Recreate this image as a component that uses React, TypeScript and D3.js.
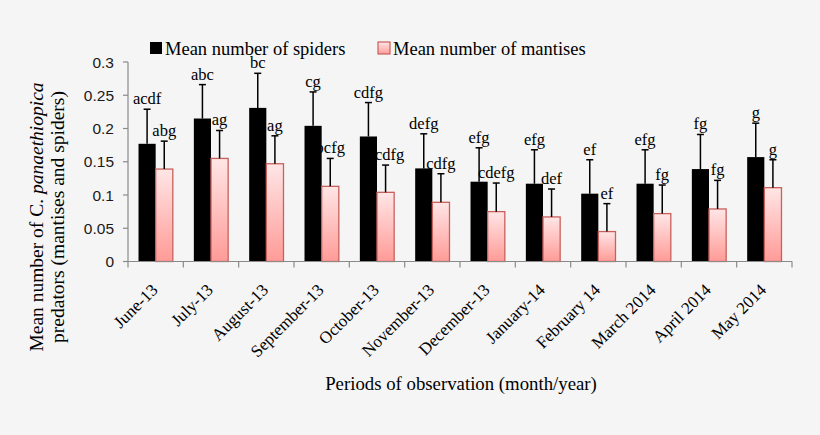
import React, { useRef, useEffect } from 'react'
import * as d3 from 'd3'

const months = [
  'June-13', 'July-13', 'August-13', 'September-13', 'October-13', 'November-13',
  'December-13', 'January-14', 'February 14', 'March 2014', 'April 2014', 'May 2014',
]

const spiders = [0.177, 0.215, 0.231, 0.204, 0.188, 0.14, 0.12, 0.117, 0.102, 0.117, 0.139, 0.157]
const spiderErr = [0.052, 0.051, 0.052, 0.051, 0.051, 0.052, 0.051, 0.051, 0.051, 0.051, 0.052, 0.051]
const spiderLetters = ['acdf', 'abc', 'bc', 'cg', 'cdfg', 'defg', 'efg', 'efg', 'ef', 'efg', 'fg', 'g']

const mantises = [0.139, 0.155, 0.147, 0.113, 0.104, 0.089, 0.075, 0.067, 0.045, 0.072, 0.079, 0.111]
const mantisErr = [0.042, 0.042, 0.042, 0.042, 0.041, 0.043, 0.043, 0.042, 0.042, 0.043, 0.043, 0.042]
const mantisLetters = ['abg', 'ag', 'ag', 'bcfg', 'bcdfg', 'cdfg', 'cdefg', 'def', 'ef', 'fg', 'fg', 'g']

const yTicks = [0, 0.05, 0.1, 0.15, 0.2, 0.25, 0.3]

const seriesNames = ['Mean number of spiders', 'Mean number of mantises']

export default function App() {
  const svgRef = useRef<SVGSVGElement>(null)
  const width = 820
  const height = 435

  useEffect(() => {
    if (!svgRef.current) return
    d3.select(svgRef.current).selectAll('*').remove()

    const svg = d3.select(svgRef.current)
    const serif = '"Liberation Serif", "Times New Roman", serif'
    const sans = '"Liberation Sans", Arial, sans-serif'

    // background
    svg.append('rect')
      .attr('width', width)
      .attr('height', height)
      .attr('fill', '#f5f5f5')

    // pink gradient for the mantis bars
    const grad = svg.append('defs')
      .append('linearGradient')
      .attr('id', 'pink')
      .attr('x1', 0).attr('y1', 0)
      .attr('x2', 0).attr('y2', 1)
    grad.append('stop').attr('offset', '0%').attr('stop-color', '#ffe6e6')
    grad.append('stop').attr('offset', '100%').attr('stop-color', '#ff9b97')

    const left = 128
    const right = 792
    const top = 62
    const bottom = 261.5

    const x = d3.scaleBand<string>()
      .domain(months)
      .range([left, right])
      .padding(0)

    const groupW = x.bandwidth() * 0.62
    const xs = d3.scaleBand<string>()
      .domain(['s', 'm'])
      .range([0, groupW])

    const y = d3.scaleLinear()
      .domain([0, 0.3])
      .range([bottom, top])

    const axisColor = '#8a8a8a'

    // y axis
    svg.append('line')
      .attr('x1', left).attr('x2', left)
      .attr('y1', y(0.3)).attr('y2', bottom)
      .attr('stroke', axisColor)
      .attr('stroke-width', 1.2)

    yTicks.forEach(t => {
      svg.append('line')
        .attr('x1', left - 5).attr('x2', left)
        .attr('y1', y(t)).attr('y2', y(t))
        .attr('stroke', axisColor)
        .attr('stroke-width', 1.2)
      svg.append('text')
        .attr('x', 114)
        .attr('y', y(t))
        .attr('dy', '0.36em')
        .attr('text-anchor', 'end')
        .attr('font-family', sans)
        .attr('font-size', '15.5px')
        .attr('fill', '#1a1a1a')
        .text(String(t))
    })

    // bars, error bars, letters
    const drawSeries = (
      vals: number[], errs: number[], letters: string[], key: string,
      fill: string, stroke: string
    ) => {
      vals.forEach((v, i) => {
        const bx = (x(months[i]) as number) + (x.bandwidth() - groupW) / 2 + (xs(key) as number)
        const bw = xs.bandwidth()
        const cx = bx + bw / 2
        svg.append('rect')
          .attr('x', bx)
          .attr('y', y(v))
          .attr('width', bw)
          .attr('height', bottom - y(v))
          .attr('fill', fill)
          .attr('stroke', stroke)
          .attr('stroke-width', stroke === 'none' ? 0 : 1.3)

        const capY = y(v + errs[i])
        svg.append('line')
          .attr('x1', cx).attr('x2', cx)
          .attr('y1', y(v)).attr('y2', capY)
          .attr('stroke', '#000')
          .attr('stroke-width', 1.5)
        svg.append('line')
          .attr('x1', cx - 3.5).attr('x2', cx + 3.5)
          .attr('y1', capY).attr('y2', capY)
          .attr('stroke', '#000')
          .attr('stroke-width', 1.5)

        svg.append('text')
          .attr('x', cx)
          .attr('y', capY - 5)
          .attr('text-anchor', 'middle')
          .attr('font-family', serif)
          .attr('font-size', '16.5px')
          .attr('fill', '#000')
          .text(letters[i])
      })
    }

    drawSeries(spiders, spiderErr, spiderLetters, 's', '#000', 'none')
    drawSeries(mantises, mantisErr, mantisLetters, 'm', 'url(#pink)', '#c9605c')

    // x axis over the bars
    svg.append('line')
      .attr('x1', left).attr('x2', right)
      .attr('y1', bottom).attr('y2', bottom)
      .attr('stroke', axisColor)
      .attr('stroke-width', 1.2)

    months.forEach((m, i) => {
      const tx = left + i * x.bandwidth()
      svg.append('line')
        .attr('x1', tx).attr('x2', tx)
        .attr('y1', bottom).attr('y2', bottom + 6)
        .attr('stroke', axisColor)
        .attr('stroke-width', 1.2)
    })
    svg.append('line')
      .attr('x1', right).attr('x2', right)
      .attr('y1', bottom).attr('y2', bottom + 6)
      .attr('stroke', axisColor)
      .attr('stroke-width', 1.2)

    // rotated month labels
    months.forEach(m => {
      const cx = (x(m) as number) + x.bandwidth() / 2 + 3
      svg.append('text')
        .attr('transform', `translate(${cx}, 291) rotate(-45)`)
        .attr('text-anchor', 'end')
        .attr('font-family', serif)
        .attr('font-size', '17px')
        .attr('fill', '#000')
        .text(m)
    })

    // axis titles
    svg.append('text')
      .attr('x', 461)
      .attr('y', 390)
      .attr('text-anchor', 'middle')
      .attr('font-family', serif)
      .attr('font-size', '18.8px')
      .attr('fill', '#000')
      .text('Periods of observation (month/year)')

    const yTitle = svg.append('text')
      .attr('transform', 'translate(43, 217) rotate(-90)')
      .attr('text-anchor', 'middle')
      .attr('font-family', serif)
      .attr('font-size', '19.5px')
      .attr('fill', '#000')
    yTitle.append('tspan').text('Mean number of ')
    yTitle.append('tspan').text('C. ')
    yTitle.append('tspan').attr('font-style', 'italic').text('panaethiopica')

    svg.append('text')
      .attr('transform', 'translate(64, 217) rotate(-90)')
      .attr('text-anchor', 'middle')
      .attr('font-family', serif)
      .attr('font-size', '19.5px')
      .attr('fill', '#000')
      .text('predators (mantises and spiders)')

    // legend
    const legendX = [150, 378]
    const legendFill = ['#000', 'url(#pink)']
    const legendStroke = ['none', '#c9605c']
    seriesNames.forEach((name, i) => {
      svg.append('rect')
        .attr('x', legendX[i])
        .attr('y', 42)
        .attr('width', 12)
        .attr('height', 12)
        .attr('fill', legendFill[i])
        .attr('stroke', legendStroke[i])
        .attr('stroke-width', legendStroke[i] === 'none' ? 0 : 1.2)
      svg.append('text')
        .attr('x', legendX[i] + 15)
        .attr('y', 55)
        .attr('font-family', serif)
        .attr('font-size', '18.5px')
        .attr('fill', '#000')
        .text(name)
    })
  }, [])

  return (
    <svg
      ref={svgRef}
      width={width}
      height={height}
      style={{ position: 'absolute', left: 0, top: 0, display: 'block' }}
    />
  )
}
